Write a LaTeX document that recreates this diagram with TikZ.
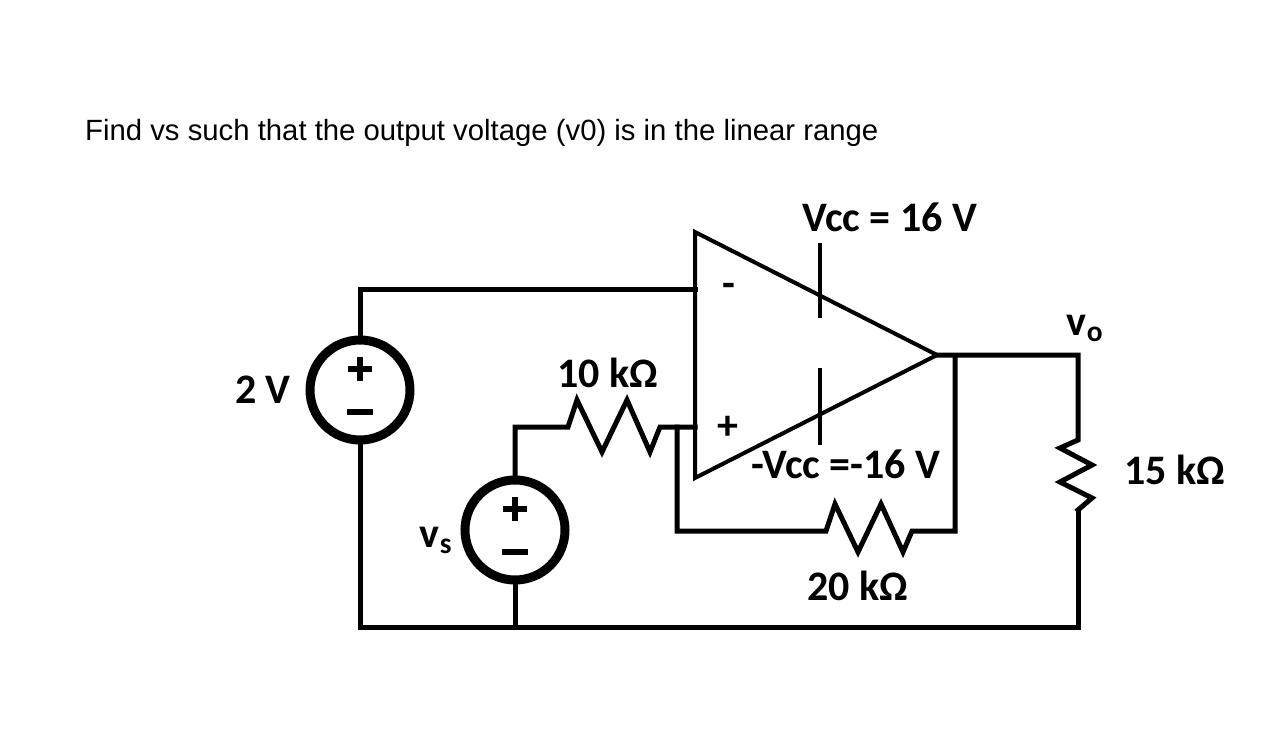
\documentclass[tikz,border=0pt]{standalone}
\usepackage{fontspec}
\setmainfont{Carlito}
\newfontfamily\arialf{Liberation Sans}
\begin{document}
\begin{tikzpicture}[x=1pt,y=-1pt,
  wire/.style={line width=5pt,line cap=rect,line join=miter},
  src/.style={circle,draw,line width=9pt,minimum size=91pt,inner sep=0pt},
  lbl/.style={font=\bfseries\fontsize{42}{42}\selectfont,inner sep=0pt},
  sign/.style={line width=6pt}]
\useasboundingbox (0,0) rectangle (1286,738);
\node[anchor=west,font=\arialf\fontsize{29.3}{29.3}\selectfont,inner sep=0pt] (title) at (85,133) {Find vs such that the output voltage (v0) is in the linear range};
% sources
\node[src,minimum size=100pt] (s2) at (360,390) {};
\node[src,minimum size=100pt] (vs) at (515,530) {};
\draw[sign] (360,357) -- (360,381) (348,369) -- (372,369);
\draw[sign] (347,412) -- (373,412);
\draw[sign] (515,497) -- (515,521) (503,509) -- (527,509);
\draw[sign] (502,552) -- (528,552);
\node[lbl] (l2v) at (263,390) {2 V};
\node[lbl] (lvs) at (436,540) {v\textsubscript{s}};
% opamp
\coordinate (A) at (695,232); \coordinate (B) at (695,478); \coordinate (C) at (937,355);
\draw[line width=4pt,line join=miter] (A) -- (C) -- (B) -- cycle;
\draw[line width=4pt] (820,243) -- (820,318) (820,368) -- (820,445);
\node[lbl] (minus) at (729,290) {-};
\node[lbl] (plus) at (728,428) {+};
\node[lbl] (vcc) at (890,217) {Vcc = 16 V};
\node[lbl] (nvcc) at (846,464) {-Vcc =-16 V};
% wires
\coordinate (inm) at (695,290); \coordinate (inp) at (695,427);
\draw[wire] (s2.north) -- (360,290) -- (inm);
\draw[wire] (s2.south) -- (360,627) -- (1078,627) -- (1078,510);
\draw[wire] (vs.south) -- (515,627);
\draw[wire] (vs.north) -- (515,427) -- (568,427) -- (577,400) -- (602,452) -- (627,400) -- (650,452) -- (660,427) -- (inp);
\node[lbl] (r10) at (608,373) {10 kΩ};
\draw[wire] (677,427) -- (677,531) -- (826,531) -- (835,504) -- (858,552) -- (881,504) -- (903,552) -- (912,531) -- (955,531) -- (955,358);
\node[lbl] (r20) at (858,586) {20 kΩ};
\draw[wire] (C) -- (1078,355) -- (1078,440) -- (1060,448) -- (1092,465) -- (1060,482) -- (1092,498) -- (1078,510);
\node[lbl] (r15) at (1175,470) {15 kΩ};
\node[lbl] (vo) at (1085,328) {v\textsubscript{o}};
\end{tikzpicture}
\end{document}
